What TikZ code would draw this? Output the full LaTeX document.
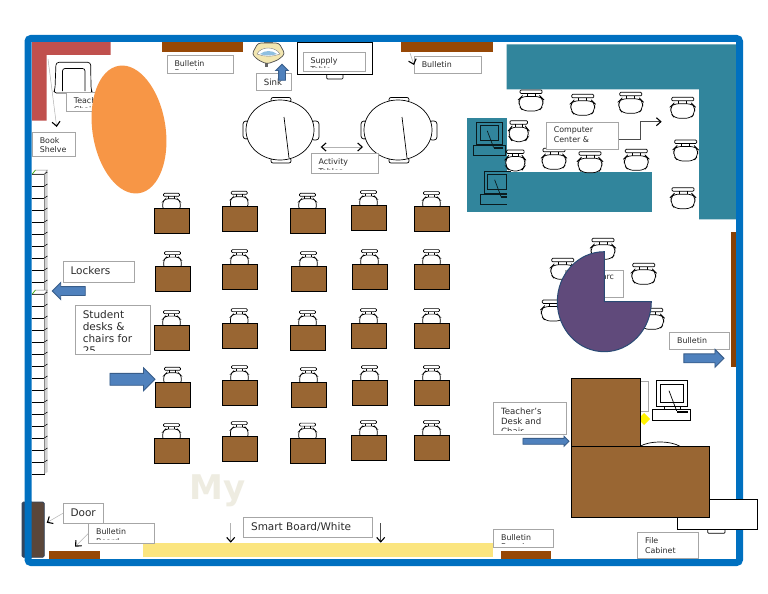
\documentclass[tikz,border=0pt]{standalone}
\usepackage{fontspec}
\setmainfont{DejaVu Sans}
\usepackage{xcolor}
\usetikzlibrary{arrows.meta}
\usetikzlibrary{shapes.arrows}

\definecolor{wallblue}{HTML}{0070C0}
\definecolor{shelfred}{HTML}{C0504D}
\definecolor{boardbrown}{HTML}{974806}
\definecolor{deskbrown}{HTML}{996633}
\definecolor{centerteal}{HTML}{31859C}
\definecolor{blobcolor}{HTML}{F79646}
\definecolor{piecolor}{HTML}{604A7B}
\definecolor{pieline}{HTML}{2A4A75}
\definecolor{arrowblue}{HTML}{4F81BD}
\definecolor{arrowline}{HTML}{385D8A}
\definecolor{smartyellow}{HTML}{FBE57F}
\definecolor{framegray}{HTML}{A6A6A6}
\definecolor{textdark}{HTML}{2B2B2B}
\definecolor{waterpale}{HTML}{EEECE1}
\definecolor{sinkcream}{HTML}{F2E6B0}
\definecolor{sinkblue}{HTML}{8FBFE0}
\definecolor{doorbrown}{HTML}{5A463A}
\definecolor{doorslate}{HTML}{34465E}

% text box with text cut off at the lower edge
\newcommand{\labelbox}[7]{%
  \node[labelframe, minimum width=#4pt, minimum height=#5pt, path picture={%
    \clip (path picture bounding box.north west) rectangle ([yshift=4pt]path picture bounding box.south east);
    \node[labeltext, #6] at (path picture bounding box.north west) {#7};
  }] (#1) at (#2,#3) {};}

\begin{document}
\begin{tikzpicture}[
    x=1pt, y=-1pt,
    labelframe/.style={
        rectangle,
        anchor=north west,
        draw=framegray,
        fill=white,
        line width=0.8pt,
        inner sep=0pt
    },
    labeltext/.style={
        anchor=north west,
        draw=none,
        fill=none,
        minimum width=0pt,
        minimum height=0pt,
        align=left,
        text=textdark,
        inner xsep=7pt,
        inner ysep=4.6pt
    },
    smalltext/.style={font=\fontsize{7.9}{9.3}\selectfont},
    midtext/.style={font=\fontsize{8.6}{10}\selectfont},
    bigtext/.style={font=\fontsize{10.5}{12}\selectfont},
    deskbox/.style={
        rectangle,
        anchor=north west,
        draw=black,
        fill=deskbrown,
        line width=0.8pt,
        inner sep=0pt,
        minimum width=35pt,
        minimum height=25pt
    },
    blockarrow/.style={
        single arrow,
        draw=arrowline,
        fill=arrowblue,
        line width=0.9pt,
        inner xsep=0pt,
        single arrow head indent=0pt
    },
    pointer/.style={
        -{Straight Barb[length=4.5pt, width=8pt, color=black, line width=1.1pt]},
        draw=gray!60,
        line width=0.5pt
    },
    darkpointer/.style={
        -{Straight Barb[length=4.5pt, width=8pt, color=black, line width=1.1pt]},
        draw=black!70,
        line width=0.7pt
    },
    chair/.pic={
        \draw[line width=0.7pt, fill=white, rounded corners=1pt] (-11,0) rectangle (11,3.5);
        \draw[line width=0.7pt] (-4,3.5) -- (-4,6.5) (4,3.5) -- (4,6.5);
        \draw[line width=0.7pt, fill=white, rounded corners=5pt]
            (-9.5,6.5) -- (9.5,6.5) -- (12,9) -- (12,16) -- (8,21) -- (-8,21) -- (-12,16) -- (-12,9) -- cycle;
    },
    seat/.pic={
        \draw[line width=0.7pt, fill=white, rounded corners=1pt] (-8,0) rectangle (8,3);
        \draw[line width=0.7pt] (-3,3) -- (-3,5.5) (3,3) -- (3,5.5);
        \draw[line width=0.7pt, fill=white, rounded corners=2.5pt]
            (-6,5.5) -- (6,5.5) -- (8.8,8.5) -- (8.8,16) -- (-8.8,16) -- (-8.8,8.5) -- cycle;
    },
    roundtable/.pic={
        \draw[line width=0.7pt, fill=white, rounded corners=2pt] (-9,-32.5) rectangle (11,-28);
        \draw[line width=0.7pt, fill=white, rounded corners=2pt] (-9,28) rectangle (11,33);
        \draw[line width=0.7pt, fill=white, rounded corners=3pt] (-37,-9) rectangle (-31,9);
        \draw[line width=0.7pt, fill=white, rounded corners=3pt] (31,-9) rectangle (39,10);
        \draw[line width=0.7pt, fill=white] (0,0) ellipse [x radius=34pt, y radius=30pt];
        \draw[line width=0.7pt] (4,-13) -- (9,28);
    },
    computer/.pic={
        \draw[line width=0.7pt] (4,0) rectangle (35.7,26.7);
        \draw[line width=0.7pt] (8,4) rectangle (31,22.7);
        \draw[line width=0.7pt] (0,29) rectangle (38.7,40.7);
        \draw[line width=0.7pt] (12,26.7) -- (12,29) (28,26.7) -- (28,29);
        \draw[line width=0.7pt] (17,10.7) -- (24.7,31);
        \fill (24.7,31) rectangle (36,33);
    }
]

\useasboundingbox (0,0) rectangle (768,594);
\fill[white] (0,0) rectangle (768,594);

% Door sits under the wall
\draw[fill=doorslate, draw=doorslate, line width=0.8pt, rounded corners=1.5pt] (22,502) rectangle (33,557.3);
\draw[fill=doorbrown, draw=doorslate, line width=0.8pt, rounded corners=1.5pt] (30,502) rectangle (44.3,557.3);

% Book shelves and bulletin boards
\fill[shelfred] (32,42) -- (110.7,42) -- (110.7,55) -- (46.7,55) -- (46.7,120.7) -- (32,120.7) -- cycle;
\fill[boardbrown] (162,42) rectangle (242.7,51.7);
\fill[boardbrown] (400.7,42) rectangle (493,51.7);
\fill[boardbrown] (500.7,551) rectangle (551,559);
\fill[boardbrown] (49,551) rectangle (100,559);
\fill[boardbrown!90!black] (731,232) rectangle (736,366.7);
\fill[smartyellow] (143.3,543.3) rectangle (493.3,556.7);

% Computer center
\fill[centerteal] (506.7,44.3) -- (736,44.3) -- (736,219.3) -- (699,219.3) -- (699,89.3) -- (506.7,89.3) -- cycle;
\fill[centerteal] (467.3,118) rectangle (507,211.7);
\pic[color=black!80!centerteal, scale=0.82] at (473.3,122) {computer};
\pic[color=black!80!centerteal, scale=0.82] at (480.7,171) {computer};
\fill[centerteal] (507,171.7) rectangle (651.7,211.7);

% Outer wall
\draw[wallblue, line width=7pt, rounded corners=3pt] (28,38.5) rectangle (739.5,562.5);

% Lockers
\foreach \y in {174,186,...,462} {
    \draw[line width=0.5pt, fill=white] (32.3,\y) -- (44.3,\y) -- (44.3,\y+12) -- (32.3,\y+12);
    \fill[gray!35] (44.3,\y) -- (47.5,\y-3) -- (47.5,\y+10) -- (44.3,\y+12) -- cycle;
    \draw[line width=0.5pt] (44.3,\y) -- (47.5,\y-2);
}
\foreach \y in {174,294} {
    \draw[draw=gray, fill=white, line width=0.5pt] (32.3,\y) -- (35.5,\y-4) -- (47.5,\y-4) -- (44.3,\y) -- cycle;
    \draw[green!50!olive, line width=0.6pt] (32.3,\y) -- (35.5,\y-4);
}

% Student desks and chairs
\foreach \x/\y/\n in {154/207.7/a1, 221.7/205.7/a2, 290/207.7/a3, 351/205/a4, 414/206/a5,
                      155/266/b1, 222/264/b2, 291/266/b3, 352/264/b4, 414/264/b5,
                      154/325/c1, 221.7/323/c2, 290/325/c3, 351/323/c4, 414/323/c5,
                      155/381.7/d1, 222/380/d2, 291/382/d3, 352/380/d4, 414/380/d5,
                      154/438/e1, 221.7/436/e2, 290/437.5/e3, 351/435/e4, 414/435/e5} {
    \pic at (\x+17.5,\y-14.4) {seat};
    \node[deskbox] (desk\n) at (\x,\y) {};
}

% Chairs of the computer center
\foreach \x/\y in {531/90, 582.7/94.3, 630.7/92.3, 682.7/97.3, 554/148.3, 590/151.7, 636.3/149.3, 685.7/140, 683/187.7} {
    \pic at (\x,\y) {chair};
}
\pic[xscale=0.8] at (518.7,120.7) {chair};
\pic[xscale=0.8] at (515.3,150) {chair};

% Group table with its chairs
\foreach \x/\y in {603/238.3, 562.7/258.3, 643.7/263.3, 553.3/300, 651.7/308.3} {
    \pic at (\x,\y) {chair};
}
\labelbox{arclabel}{565}{270}{58}{27.3}{smalltext}{\hspace*{29pt}arc}
\fill[piecolor, draw=pieline, line width=1pt] (604.3,301.7) -- (651.3,301.7)
    arc [start angle=0, end angle=-270, x radius=47pt, y radius=50pt] -- cycle;

% Activity tables
\pic at (280,130) {roundtable};
\pic at (398,130) {roundtable};

% Teacher's armchair
\draw[line width=0.7pt, fill=white, rounded corners=3pt] (53.5,93) -- (55,89) -- (56,62.3) -- (90.7,62.3) -- (91,89) -- (92.5,93) -- cycle;
\draw[line width=0.7pt, rounded corners=2.5pt] (62.5,91) -- (62.5,68.5) -- (85,68.5) -- (85,91);

% Sink
\fill[black!60] (264,42) rectangle (273,45);
\fill[black!60] (265,62) rectangle (268,67);
\draw[fill=sinkcream, draw=black!70, line width=0.7pt, rounded corners=3pt] (252,54) -- (258,43) -- (279,43) -- (285,54) -- (278,60) -- (267,64) -- (258,60) -- cycle;
\draw[fill=white, draw=black!50, line width=0.4pt] (257,54) .. controls (261,46) and (275,46) .. (280,54) .. controls (272,57) and (264,57) .. (257,54) -- cycle;
\fill[sinkblue] (260,54) .. controls (265,50) and (272,50) .. (277,54) .. controls (271,56) and (265,56) .. (260,54) -- cycle;

% Supply table
\draw[fill=white, line width=0.7pt, rounded corners=1pt] (326.7,72) rectangle (343,79);
\node[rectangle, anchor=north west, draw=black, fill=white, line width=0.8pt, inner sep=0pt, minimum width=75pt, minimum height=32.3pt] (supplytable) at (296.7,42) {};

% Teacher's desk, computer and file cabinet
\node[rectangle, anchor=north west, draw=framegray, fill=white, inner sep=0pt, minimum width=12pt, minimum height=30.3pt] (teacherpaper) at (636.3,380.7) {};
\fill[yellow] (644,413) -- (650,419) -- (644,425) -- (638,419) -- cycle;
\pic at (652,380) {computer};
\draw[line width=0.7pt, fill=white] (640,446.3) .. controls (650,440.5) and (670,440.5) .. (680,446.3);
\draw[line width=0.7pt, fill=white, rounded corners=1pt] (707.7,527) rectangle (725,533.3);
\node[rectangle, anchor=north west, draw=black, fill=white, line width=0.7pt, inner sep=0pt, minimum width=80pt, minimum height=30pt] (cabinet) at (676.7,499.3) {};
\node[deskbox, minimum width=69pt, minimum height=68.6pt] (teacherdesk) at (571,377.7) {};
\node[deskbox, minimum width=138pt, minimum height=70.4pt] (teacherreturn) at (571,446.3) {};

% Watermark
\node[text=waterpale, font=\bfseries\fontsize{34}{36}\selectfont, inner sep=0pt] (watermark) at (217.5,491) {My};

% Labels
\labelbox{teacherchair}{66}{92}{40}{18.7}{smalltext}{Teacher's\\Chair}
\fill[blobcolor, rotate around={9:(129,129.5)}] (129,129.5) ellipse [x radius=36.5pt, y radius=64.5pt];
\labelbox{bookshelve}{32}{131.7}{43}{24.3}{smalltext}{Book\\Shelve}
\labelbox{bulletintop}{166.7}{55}{66.3}{18}{smalltext}{Bulletin\\Board}
\labelbox{sinklabel}{256}{73.3}{34.7}{16.7}{midtext}{Sink}
\labelbox{supplylabel}{302.7}{51.7}{62.3}{19}{smalltext}{Supply\\Table}
\labelbox{bulletinmid}{414}{56}{66.7}{17.3}{smalltext}{Bulletin\\Board}
\labelbox{activity}{310.7}{153.3}{67}{19.4}{smalltext}{Activity\\Tables}
\labelbox{compcenter}{546}{121.7}{71.7}{27.3}{smalltext}{Computer\\Center \&}
\labelbox{lockers}{62.7}{260.7}{71.3}{21}{bigtext}{Lockers}
\labelbox{students}{75}{305}{75}{49.3}{bigtext}{Student\\desks \&\\chairs for\\25}
\labelbox{bulletinright}{669.3}{332.3}{60}{17}{smalltext}{Bulletin\\Board}
\labelbox{teacherlabel}{493.3}{402.3}{72.4}{31.7}{midtext}{Teacher's\\Desk and\\Chair}
\labelbox{bulletinlow}{493.3}{529}{60}{17.7}{smalltext}{Bulletin\\Board}
\labelbox{filecabinet}{637.3}{532.3}{60.4}{25.4}{smalltext}{File\\Cabinet}
\labelbox{smartlabel}{243.3}{516.7}{128.4}{20.6}{bigtext}{Smart Board/White\\Board}
\labelbox{doorlabel}{62.7}{503.3}{40.6}{19.4}{bigtext}{Door}
\labelbox{bulletindoor}{88.3}{523.3}{66}{19.4}{smalltext}{Bulletin\\Board}

% Block arrows
\node[blockarrow, minimum height=16pt, inner ysep=3pt, single arrow head extend=2.8pt, rotate=90] (sinkarrow) at (282,74) {};
\node[blockarrow, minimum height=33pt, inner ysep=4pt, single arrow head extend=4pt, rotate=180] (lockerarrow) at (71,291) {};
\node[blockarrow, minimum height=45pt, inner ysep=5.5pt, single arrow head extend=5.5pt] (studentarrow) at (129.5,379.3) {};
\node[blockarrow, minimum height=40pt, inner ysep=4pt, single arrow head extend=4.5pt] (bulletinarrow) at (701.7,358.3) {};
\node[blockarrow, minimum height=46pt, inner ysep=2.5pt, single arrow head extend=2pt] (deskarrow) at (544.5,441.3) {};

% Named ends of the thin arrows
\coordinate (bookstart) at (48,59);
\coordinate (bookend) at (56.7,127);
\coordinate (leftmid) at (320.7,147);
\coordinate (rightmid) at (363,147);
\coordinate (boardend) at (414,65);
\coordinate (compturn) at (661.7,121.7);
\coordinate (doorend) at (46.7,522.7);
\coordinate (boardlowend) at (75,546.7);
\coordinate (smartleft) at (230.7,542.7);
\coordinate (smartleftup) at (230.7,523);
\coordinate (smartright) at (380.7,542.7);
\coordinate (smartrightup) at (380.7,523);

% Connect labels with arrows
\draw[pointer] (bookstart) -- (bookend);
\draw[pointer, {Straight Barb[length=4.5pt, width=8pt, color=black, line width=1.1pt]}-{Straight Barb[length=4.5pt, width=8pt, color=black, line width=1.1pt]}] (leftmid) -- (rightmid);
\draw[pointer] (bulletinmid.north west) ++(-4,-3) -- (boardend);
\draw[darkpointer] ([yshift=-3.6pt]compcenter.east) -| ([xshift=-21.7pt]compturn) -- (compturn);
\draw[pointer] (doorlabel.west) -- (doorend);
\draw[pointer] (bulletindoor.west) -- (boardlowend);
\draw[pointer] (smartleftup) -- (smartleft);
\draw[darkpointer] (smartrightup) -- (smartright);

\end{tikzpicture}
\end{document}
